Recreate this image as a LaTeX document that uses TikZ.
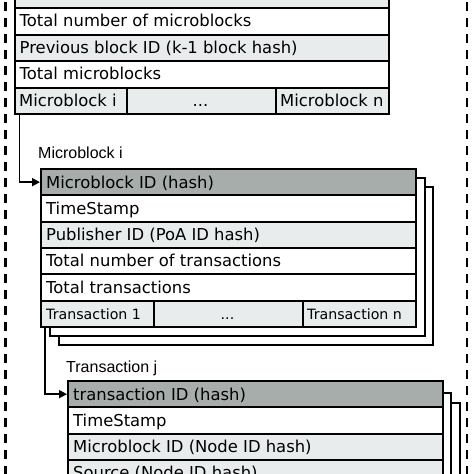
\documentclass[tikz,border=0pt]{standalone}
\usepackage{fontspec}
\setmainfont{DejaVu Sans}
\newfontfamily\labelfont{Liberation Sans}
\usetikzlibrary{arrows.meta}
\definecolor{lightrow}{HTML}{E9ECEC}
\definecolor{headrow}{HTML}{A6ADAB}
\tikzset{
  cellbox/.style={draw=black, line width=2pt, inner sep=0pt, anchor=north west},
  rowtxt/.style={anchor=base west, inner sep=0pt, font=\fontsize{16.4}{18}\selectfont},
  smalltxt/.style={anchor=base west, inner sep=0pt, font=\fontsize{14.2}{16}\selectfont},
  captxt/.style={anchor=base west, inner sep=0pt, font=\labelfont\fontsize{16}{18}\selectfont},
  shadowbox/.style={draw=black, line width=2pt, fill=white},
  linkarrow/.style={draw=black, line width=1.7pt, -{Triangle[length=8pt,width=8pt]}},
  frame/.style={draw=black, line width=2.8pt, dash pattern=on 9pt off 7pt}
}
\begin{document}
\begin{tikzpicture}[x=1pt,y=-1pt]
\useasboundingbox (0,0) rectangle (474,474);
\clip (0,0) rectangle (474,474);
\fill[white] (0,0) rectangle (474,474);
% dashed outer frame
\draw[frame] (5.5,-30) -- (5.5,510);
\draw[frame, line width=2.4pt] (467,-30) -- (467,510);

% ---------- top block ----------
\node[cellbox, fill=lightrow, minimum width=374.5pt, minimum height=37pt] (b0) at (13.5,-30) {};
\node[cellbox, fill=white, minimum width=374.5pt, minimum height=26.5pt] (b1) at (13.5,7) {};
\node[cellbox, fill=lightrow, minimum width=374.5pt, minimum height=26.5pt] (b2) at (13.5,33.5) {};
\node[cellbox, fill=white, minimum width=374.5pt, minimum height=26.5pt] (b3) at (13.5,60) {};
\node[cellbox, fill=lightrow, minimum width=112.5pt, minimum height=26.5pt] (mbi) at (13.5,86.5) {};
\node[cellbox, fill=lightrow, minimum width=149pt, minimum height=26.5pt] (mbdots) at (126,86.5) {};
\node[cellbox, fill=lightrow, minimum width=113pt, minimum height=26.5pt] (mbn) at (275,86.5) {};
\node[rowtxt] (t1) at (19.5,26.7) {Total number of microblocks};
\node[rowtxt] (t2) at (19.5,53.2) {Previous block ID (k-1 block hash)};
\node[rowtxt] (t3) at (19.5,79.7) {Total microblocks};
\node[rowtxt] (t4) at (19,106.2) {Microblock i};
\node[rowtxt, anchor=base] (t5) at (200.5,106.2) {...};
\node[rowtxt] (t6) at (280,106.2) {Microblock n};

% ---------- microblock ----------
\draw[shadowbox] (59,187) rectangle (433,345);
\draw[shadowbox] (49.5,178) rectangle (425,336);
\node[cellbox, fill=headrow, minimum width=375pt, minimum height=26.3pt] (mh) at (40,168) {};
\node[cellbox, fill=white, minimum width=375pt, minimum height=26.3pt] (m1) at (40,194.3) {};
\node[cellbox, fill=lightrow, minimum width=375pt, minimum height=26.3pt] (m2) at (40,220.6) {};
\node[cellbox, fill=white, minimum width=375pt, minimum height=26.3pt] (m3) at (40,246.9) {};
\node[cellbox, fill=white, minimum width=375pt, minimum height=26.3pt] (m4) at (40,273.2) {};
\node[cellbox, fill=lightrow, minimum width=113pt, minimum height=26.3pt] (tx1) at (40,299.5) {};
\node[cellbox, fill=lightrow, minimum width=149pt, minimum height=26.3pt] (txdots) at (153,299.5) {};
\node[cellbox, fill=lightrow, minimum width=113pt, minimum height=26.3pt] (txn) at (302,299.5) {};
\node[rowtxt] (u0) at (46,188) {Microblock ID (hash)};
\node[rowtxt] (u1) at (46,214.3) {TimeStamp};
\node[rowtxt] (u2) at (46,240.6) {Publisher ID (PoA ID hash)};
\node[rowtxt] (u3) at (46,266.9) {Total number of transactions};
\node[rowtxt] (u4) at (46,293.2) {Total transactions};
\node[smalltxt] (u5) at (46,319) {Transaction 1};
\node[smalltxt, anchor=base] (u6) at (227.5,319) {...};
\node[smalltxt] (u7) at (307,319) {Transaction n};
\node[captxt] (capm) at (38,158) {Microblock i};

% ---------- transaction ----------
\draw[shadowbox] (76,403) rectangle (460,520);
\draw[shadowbox] (71.5,392.5) rectangle (451,520);
\node[cellbox, fill=headrow, minimum width=375pt, minimum height=26.3pt] (th) at (67,380) {};
\node[cellbox, fill=white, minimum width=375pt, minimum height=26.3pt] (r1) at (67,406.3) {};
\node[cellbox, fill=lightrow, minimum width=375pt, minimum height=26.3pt] (r2) at (67,432.6) {};
\node[cellbox, fill=lightrow, minimum width=375pt, minimum height=40pt] (r3) at (67,458.9) {};
\node[rowtxt] (v0) at (73,400) {transaction ID (hash)};
\node[rowtxt] (v1) at (73,426.3) {TimeStamp};
\node[rowtxt] (v2) at (73,452.6) {Microblock ID (Node ID hash)};
\node[rowtxt] (v3) at (73,478.9) {Source (Node ID hash)};
\node[captxt] (capt) at (66,372) {Transaction j};

% ---------- connectors ----------
\draw[linkarrow] ([xshift=6pt]mbi.south west) |- (mh.west);
\draw[linkarrow] ([xshift=5pt]tx1.south west) |- (th.west);
\end{tikzpicture}
\end{document}
